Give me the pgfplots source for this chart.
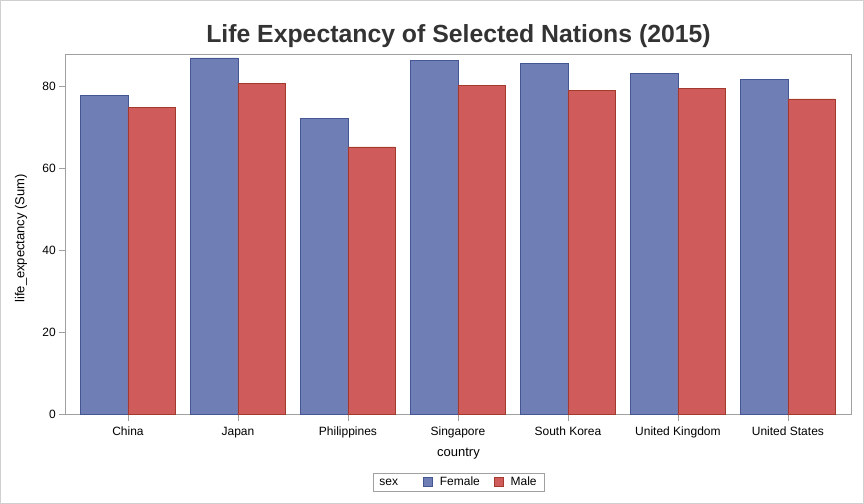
\documentclass[border=0pt]{standalone}
\usepackage{fontspec}
\setmainfont{Liberation Sans}
\usepackage{pgfplots}
\pgfplotsset{compat=1.18}

\definecolor{femfill}{HTML}{6F7EB5}
\definecolor{femline}{HTML}{445694}
\definecolor{malfill}{HTML}{D05B5B}
\definecolor{malline}{HTML}{A23A2E}
\definecolor{framegray}{HTML}{A0A0A0}
\definecolor{outergray}{HTML}{CFCFCF}
\definecolor{titlegray}{HTML}{333333}

\begin{document}
\begin{tikzpicture}
% whole image: 864 x 504 px, plot area corner at (65.3, 89.3) from bottom left
\path[use as bounding box] (-65.3bp,-89.3bp) rectangle (798.7bp,414.7bp);
\begin{axis}[
    at={(0,0)}, anchor=south west,
    scale only axis,
    width=786.4bp, height=360bp,
    xmin=-0.57, xmax=6.58,
    ymin=0, ymax=87.8,
    xtick={0,1,2,3,4,5,6},
    xticklabels={China,Japan,Philippines,Singapore,South Korea,United Kingdom,United States},
    ytick={0,20,40,60,80},
    tick align=outside,
    major tick length=6bp,
    tick style={framegray, line width=0.8bp},
    xtick pos=bottom, ytick pos=left,
    axis line style={framegray, line width=0.8bp},
    ticklabel style={font=\fontsize{12bp}{14bp}\selectfont, text=black},
    xticklabel style={yshift=-2.5bp, text height=9bp, text depth=2.5bp},
    /pgf/number format/assume math mode=true,
    title={Life Expectancy of Selected Nations (2015)},
    title style={font=\fontsize{24.8bp}{28bp}\selectfont\bfseries, text=titlegray,
        at={(axis description cs:0.5,1)}, anchor=center, yshift=12.5bp},
    xlabel={country},
    xlabel style={font=\fontsize{13bp}{15bp}\selectfont,
        at={(axis description cs:0.5,0)}, anchor=center, yshift=-39bp},
    ylabel={life\_expectancy (Sum)},
    ylabel style={font=\fontsize{13bp}{15bp}\selectfont,
        at={(axis description cs:-0.0563,0.49)}, anchor=center},
    legend columns=-1,
    legend style={at={(axis description cs:0.5,0)}, anchor=center, yshift=-67.8bp,
        draw=framegray, line width=0.6bp, font=\fontsize{12bp}{14bp}\selectfont,
        inner xsep=5.5bp, inner ysep=1.5bp,
        nodes={text height=9bp, text depth=2.5bp},
        /tikz/every odd column/.append style={column sep=5bp},
        /tikz/every even column/.append style={column sep=12bp}},
    legend image code/.code={\draw[#1, line width=0.8bp] (0bp,-4bp) rectangle (9bp,5bp);},
]
\addlegendimage{empty legend}
\addlegendentry{\kern-6bp sex\kern11bp}
% Female
\addplot[ybar, bar width=0.429, bar shift=-0.2145, fill=femfill, draw=femline, line width=0.8bp]
    coordinates {(0,77.8) (1,87.0) (2,72.2) (3,86.3) (4,85.6) (5,83.3) (6,81.8)};
\addlegendentry{Female}
% Male
\addplot[ybar, bar width=0.429, bar shift=0.2145, fill=malfill, draw=malline, line width=0.8bp]
    coordinates {(0,74.9) (1,80.7) (2,65.3) (3,80.2) (4,79.0) (5,79.5) (6,77.0)};
\addlegendentry{Male}
\end{axis}
\draw[outergray, line width=1bp] (-64.8bp,-88.8bp) rectangle (798.2bp,414.2bp);
\end{tikzpicture}
\end{document}
